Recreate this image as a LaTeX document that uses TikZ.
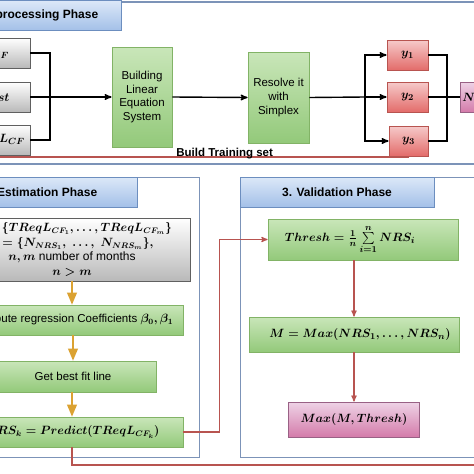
\documentclass[tikz,border=0pt]{standalone}
\usepackage{amsmath}
\usepackage{bm}
\usepackage{fontspec}
\setmainfont{Liberation Sans}
\usepackage{tikz}
\usetikzlibrary{arrows}
\definecolor{frameblue}{HTML}{7C93B8}
\definecolor{titletop}{HTML}{DCE8F8}
\definecolor{titlebot}{HTML}{A3C0E8}
\definecolor{titleline}{HTML}{6C8EBF}
\definecolor{greentop}{HTML}{C9E6B9}
\definecolor{greenbot}{HTML}{93C97A}
\definecolor{greenline}{HTML}{82B366}
\definecolor{redtop}{HTML}{F6CACA}
\definecolor{redbot}{HTML}{E36C6A}
\definecolor{redline}{HTML}{B85450}
\definecolor{pinktop}{HTML}{EED3E6}
\definecolor{pinkbot}{HTML}{D47BAA}
\definecolor{pinkline}{HTML}{996185}
\definecolor{gold}{HTML}{DBA232}
\begin{document}
\begin{tikzpicture}[x=1pt,y=-1pt,>=stealth',
	phase/.style={draw=frameblue,line width=1pt},
	title/.style={draw=titleline,line width=0.8pt,top color=titletop,bottom color=titlebot,font=\bfseries\fontsize{12}{14}\selectfont,minimum height=30pt,inner sep=0pt},
	input/.style={draw=gray!75!black,line width=0.8pt,top color=white,bottom color=gray!55,minimum width=70pt,minimum height=30pt,font=\boldmath\fontsize{13}{15}\selectfont},
	task/.style={draw=greenline,line width=0.8pt,top color=greentop,bottom color=greenbot,align=center,inner sep=2pt,font=\fontsize{11.5}{13.7}\selectfont\boldmath},
	outbox/.style={draw=redline,line width=0.8pt,top color=redtop,bottom color=redbot,minimum width=41pt,minimum height=30pt,inner sep=0pt,font=\boldmath\fontsize{13}{15}\selectfont},
	result/.style={draw=pinkline,line width=0.8pt,top color=pinktop,bottom color=pinkbot,minimum height=30pt,font=\boldmath\fontsize{13}{15}\selectfont},
	flow/.style={black,line width=1.4pt},
	link/.style={redline,line width=1.2pt}]
	\clip (0,0) rectangle (474,474);
	\fill[white] (0,0) rectangle (474,474);
	\draw[phase,line width=1.6pt] (-70,2) rectangle (500,164);
	\draw[phase] (-70,177) rectangle (199,457);
	\draw[phase] (240,177) rectangle (500,457);
	\node[title,minimum width=182pt] (t1) at (30,15.5) {1. Preprocessing Phase};
	\node[title,minimum width=194pt] (t2) at (40,192) {2. Estimation Phase};
	\node[title,minimum width=194pt] (t3) at (337,192) {3. Validation Phase};
	\node[input] (in1) at (-5,53) {$N_{CF}$};
	\node[input] (in2) at (-5,97) {$Cost$};
	\node[input] (in3) at (-5,140) {$TReqL_{CF}$};
	\node[task,minimum width=60pt,minimum height=100pt] (build) at (142,97) {Building\\Linear\\Equation\\System};
	\node[task,minimum width=61pt,minimum height=91pt] (simplex) at (278.5,97.5) {Resolve it\\with\\Simplex};
	\node[outbox] (y1) at (407.5,55) {$y_1$};
	\node[outbox] (y2) at (407.5,97) {$y_2$};
	\node[outbox,minimum width=39pt] (y3) at (408.5,141) {$y_3$};
	\node[result,anchor=west,inner sep=2pt] (nrs) at (460,97) {$NRS$};
	\coordinate (lj) at (50,97);
	\coordinate (rj) at (365,97);
	\coordinate (oj) at (447,97);
	\draw[flow] (in1.east) -| (lj);
	\draw[flow] (in3.east) -| (lj);
	\draw[flow,->] (in2.east) -- (build.west);
	\draw[flow,->] (build.east) -- (simplex.west);
	\draw[flow] (simplex.east) -- (rj);
	\draw[flow,->] (rj) -- (y2.west);
	\draw[flow,->] (rj) |- (y1.west);
	\draw[flow,->] (rj) |- (y3.west);
	\draw[flow] (y1.east) -| (oj);
	\draw[flow] (y3.east) -| (oj);
	\draw[flow] (y2.east) -- (nrs.west);
	\coordinate (tr) at (409,157);
	\coordinate (tl) at (-10,157);
	\draw[link] (tr) -- node[pos=.44,anchor=base,inner sep=0pt,yshift=1pt,text=black,font=\bfseries\fontsize{11.5}{13}\selectfont] {Build Training set} (tl);
	\node[input,align=center,minimum width=236pt,minimum height=63pt,inner sep=0pt,font=\boldmath\fontsize{12}{14.5}\selectfont] (given) at (72,249.5) {\hspace*{30pt}$\{TReqL_{CF_1},\ldots,TReqL_{CF_m}\}$\\\hspace*{12pt}$=\{N_{NRS_1},\;\ldots,\;N_{NRS_m}\},$\\$n,m$ number of months\\$n>m$};
	\node[task,minimum width=222pt,minimum height=30pt] (coef) at (72,320) {Compute regression Coefficients $\beta_0,\beta_1$};
	\node[task,minimum width=166pt,minimum height=31pt] (fit) at (73,376.5) {Get best fit line};
	\node[task,minimum width=222pt,minimum height=30pt,font=\boldmath\fontsize{11.6}{14}\selectfont] (pred) at (72,432) {$NRS_k=Predict(TReqL_{CF_k})$};
	\draw[gold,line width=1.8pt,-triangle 45] (given.south -| coef.north) -- (coef.north);
	\draw[gold,line width=1.8pt,-triangle 45] (coef.south -| fit.north) -- (fit.north);
	\draw[gold,line width=1.8pt,-triangle 45] (fit.south -| pred.north) -- (pred.north);
	\node[task,minimum width=190pt,minimum height=41pt,font=\boldmath\fontsize{13}{15}\selectfont] (thresh) at (363,239.5) {$Thresh=\frac{1}{n}\sum\limits_{i=1}^{n}NRS_i$\hspace*{26pt}};
	\node[task,minimum width=210pt,minimum height=35pt,font=\boldmath\fontsize{13}{15}\selectfont] (maxm) at (354,334.5) {\hspace*{12pt}$M=Max(NRS_1,\ldots,NRS_n)$};
	\node[result,minimum width=131pt,minimum height=35pt] (res) at (354,419.5) {$Max(M,Thresh)$};
	\draw[link,->] (pred.east) -- ++(36,0) |- (thresh.west);
	\draw[link,->] (maxm.north |- thresh.south) -- (maxm.north);
	\draw[link,->] (maxm.south) -- (res.north);
	\coordinate (exit) at (480,465);
	\draw[link] (pred.south) |- (exit);
\end{tikzpicture}
\end{document}
